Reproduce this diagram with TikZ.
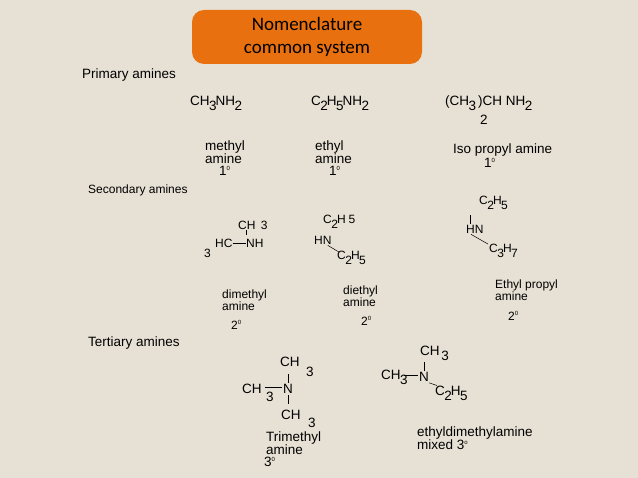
\documentclass[tikz,border=0pt]{standalone}
\usepackage{fontspec}
\setmainfont{Liberation Sans}
\newfontfamily\titlefont{Carlito}
\usetikzlibrary{calc}
\newcommand{\dn}[1]{\kern-0.5pt\raisebox{-5pt}{#1}\kern-1pt}
\newcommand{\ordr}[1]{#1\raisebox{5pt}{\fontsize{6}{6}\selectfont 0}}
\definecolor{paper}{HTML}{E7E1D5}
\definecolor{titleorange}{HTML}{E8700F}
\begin{document}
\begin{tikzpicture}[
	x=1pt,y=-1pt,
	font=\fontsize{13.5}{12.5}\selectfont,
	txt/.style={anchor=west,inner sep=0pt},
	small/.style={font=\fontsize{12}{11.5}\selectfont},
	bond/.style={draw,line width=0.5pt},
	]
\fill [paper] (0,0) rectangle (638,478);
\useasboundingbox (0,0) rectangle (638,478);
\node [fill=titleorange,rounded corners=12pt,minimum width=230pt,minimum height=54pt,
	align=center,font=\titlefont\fontsize{19}{23}\selectfont] (title) at (307,37)
	{Nomenclature\\common system};
% primary
\node [txt] (pri) at (82,75) {Primary amines};
\node [txt] (p1) at (190,103) {CH\dn{3}NH\dn{2}};
\node [txt] (p2) at (311,103) {C\dn{2}H\dn{5}NH\dn{2}};
\node [txt] (p3) at (445,103) {(CH\dn{3}\kern3pt)CH NH\dn{2}};
\node [txt] (p3b) at (480,120) {2};
\node [txt,align=left] (l1) at (205,152) {methyl\\amine};
\node [txt] (d1) at (219,171) {\ordr{1}};
\node [txt,align=left] (l2) at (315,152) {ethyl\\amine};
\node [txt] (d2) at (329,171) {\ordr{1}};
\node [txt] (l3) at (453,150) {Iso propyl amine};
\node [txt] (d3) at (484,163) {\ordr{1}};
% secondary
\node [txt,small] (sec) at (88,190) {Secondary amines};
\node [txt,small] (a1) at (238,225) {CH \,3};
\node [txt,small] (a2) at (215,243) {HC};
\node [txt,small] (a3) at (246,243) {NH};
\node [txt,small] (a4) at (204,253) {3};
\draw [bond] (a2) -- (a3);
\draw [bond] (a1.south west) ++(8,1) -- ++(0,5);
\node [txt,small] (b1) at (323,222) {C\dn{2}H\kern3pt 5};
\node [txt,small] (b2) at (314,240) {HN};
\node [txt,small] (b3) at (337,258) {C\dn{2}H\dn{5}};
\draw [bond] (b2.south east) ++(-4,1) -- ($(b3.north west)+(2,1)$);
\node [txt,small] (c1) at (479,203) {C\dn{2}H\dn{5}};
\node [txt,small] (c2) at (466,229) {HN};
\node [txt,small] (c3) at (489,251) {C\dn{3}H\dn{7}};
\draw [bond] (c2.north west) ++(4,-1) -- ++(0,-9);
\draw [bond] (c2.south west) ++(5,1) -- ($(c3.north west)+(-1,0)$);
\node [txt,align=left,small] (l4) at (222,300) {dimethyl\\amine};
\node [txt,small] (d4) at (231,325) {\ordr{2}};
\node [txt,align=left,small] (l5) at (343,296) {diethyl\\amine};
\node [txt,small] (d5) at (361,321) {\ordr{2}};
\node [txt,align=left,small] (l6) at (495,290) {Ethyl propyl\\amine};
\node [txt,small] (d6) at (508,316) {\ordr{2}};
% tertiary
\node [txt] (ter) at (88,343) {Tertiary amines};
\node [txt] (t1) at (280,362) {CH};
\node [txt] (t1s) at (306,372) {3};
\node [txt] (t2) at (242,389) {CH};
\node [txt] (t2s) at (266,397) {3};
\node [txt] (tn) at (283,389) {N};
\node [txt] (t3) at (281,415) {CH};
\node [txt] (t3s) at (308,423) {3};
\draw [bond] (tn.north) ++(0,-1) -- ++(0,-9);
\draw [bond] (tn.south) ++(0,1) -- ++(0,9);
\draw [bond] (t2.east) ++(3,-2) -- ($(tn.west)+(-1,-2)$);
\node [txt,align=left] (l7) at (266,443) {Trimethyl\\amine};
\node [txt] (d7) at (264,462) {\ordr{3}};
\node [txt] (m1) at (420,353) {CH\,\dn{3}};
\node [txt] (m2) at (381,377) {CH\dn{3}};
\node [txt] (mn) at (419,377) {N};
\node [txt] (m3) at (435,393) {C\dn{2}H\dn{5}};
\draw [bond] (mn.north) ++(0,-1) -- ++(0,-9);
\draw [bond] (m2.east) ++(-3,-2) -- ($(mn.west)+(-1,-2)$);
\draw [bond] (mn.south east) ++(0,1) -- ($(m3.north west)+(2,0)$);
\node [txt,align=left] (l8) at (417,438) {ethyldimethylamine\\mixed 3\raisebox{5pt}{\fontsize{6}{6}\selectfont o}};
\end{tikzpicture}
\end{document}
